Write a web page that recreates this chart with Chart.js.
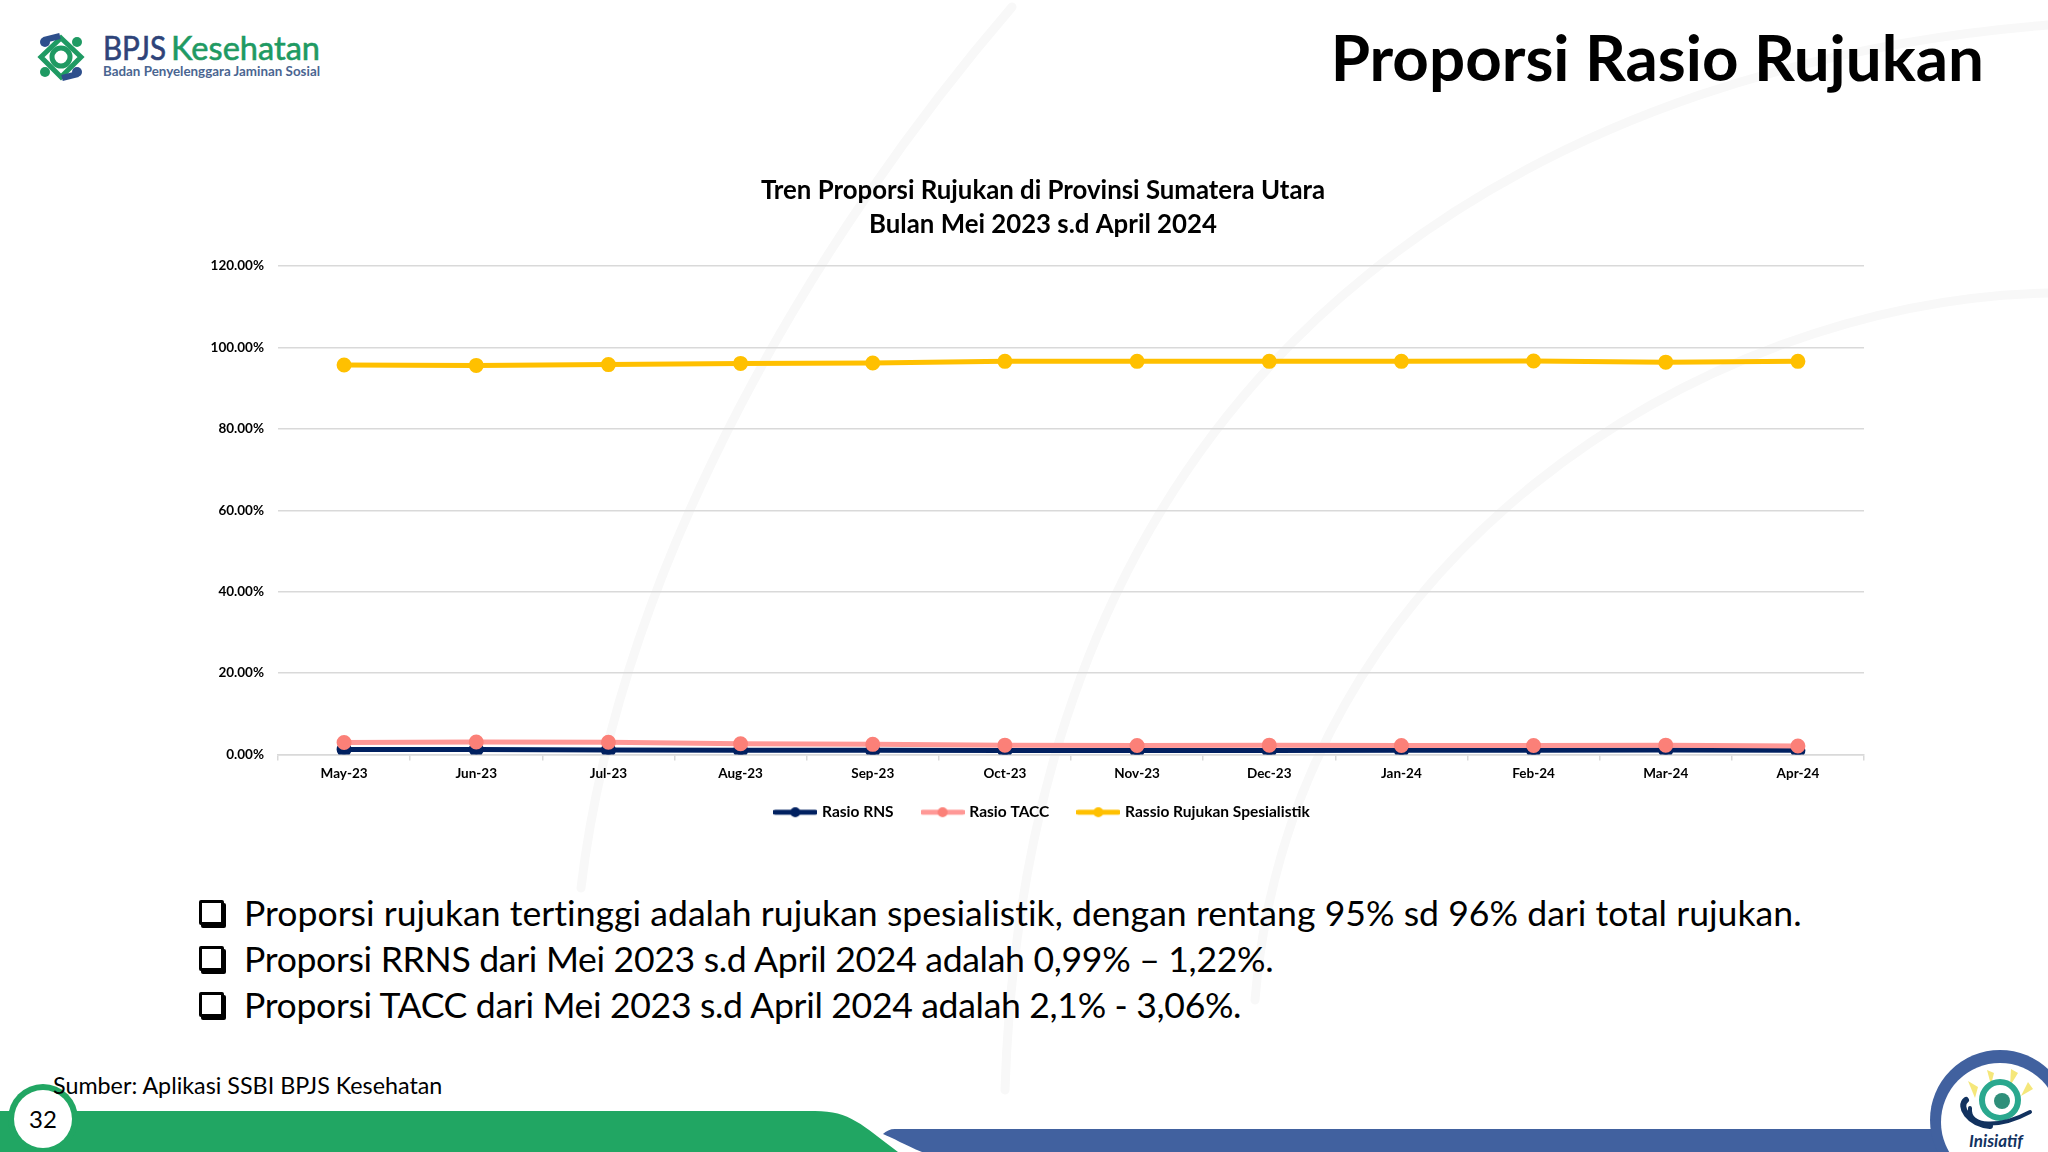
<!DOCTYPE html>
<html>
<head>
<meta charset="utf-8">
<title>Proporsi Rasio Rujukan</title>
<script src="https://cdn.jsdelivr.net/npm/chart.js@4"></script>
<style>
  html, body { margin: 0; padding: 0; background: #fff; }
  body { position: relative; width: 2048px; height: 1152px; overflow: hidden; font-family: Lato, sans-serif; color: #000; }
  #deco { position: absolute; left: 0; top: 0; }
  #chartBox { position: absolute; left: 190px; top: 160px; width: 1706px; height: 670px; }
  .pageTitle { position: absolute; right: 64px; top: 17px; font-size: 63.7px; font-weight: 700; line-height: 80px; white-space: nowrap; }
  .note { position: absolute; left: 244px; font-size: 35.6px; line-height: 46px; white-space: nowrap; }
  .box { position: absolute; left: 199px; width: 19px; height: 19px; border: 3px solid #000; border-radius: 2px; box-shadow: 2px 3px 0 #000; background: #fff; }
  .source { position: absolute; left: 53px; top: 1070px; font-size: 23.3px; line-height: 30px; white-space: nowrap; }
  .pageNo { position: absolute; left: 13px; width: 60px; top: 1104px; text-align: center; font-size: 24px; line-height: 30px; }
</style>
</head>
<body>
<svg id="deco" width="2048" height="1152" viewBox="0 0 2048 1152">
  <!-- faint swooshes behind the chart -->
  <g fill="none" stroke="#f8f8f8" stroke-width="9" stroke-linecap="round">
    <path d="M1012 7 C820 230 620 560 581 888"/>
    <path d="M2048 25 C1600 60 1030 300 1005 1090"/>
    <path d="M2048 293 C1700 300 1290 560 1255 1000"/>
  </g>
  <!-- footer bands -->
  <path d="M0 1111 L815 1111 C850 1111 862 1125 898 1152 L0 1152 Z" fill="#21a663"/>
  <path d="M895 1129 L2048 1129 L2048 1152 L922 1152 C905 1145 893 1138 883 1134 C886 1131 890 1129 895 1129 Z" fill="#41619f"/>
  <circle cx="43" cy="1119" r="35" fill="#21a663"/>
  <circle cx="43" cy="1119" r="29" fill="#fff"/>
  <!-- right badge -->
  <circle cx="2000" cy="1120" r="70" fill="#41619f"/>
  <circle cx="2000" cy="1122" r="59" fill="#fff"/>
  <g fill="#f5e77a">
    <path d="M1968 1081 l10 6 l-3 11 z"/>
    <path d="M1987 1070 l7 3 l-3 12 z"/>
    <path d="M2011 1069 l7 4 l-8 13 z"/>
    <path d="M2028 1082 l5 7 l-12 7 z"/>
  </g>
  <g fill="none" stroke-linecap="round">
    <circle cx="2000" cy="1100" r="18" stroke="#2aa88e" stroke-width="6"/>
    <circle cx="2002" cy="1101" r="8" fill="#2f8f7a" stroke="none"/>
    <path d="M1970 1108 C1968 1128 2000 1128 2030 1112" stroke="#12325f" stroke-width="4"/>
    <path d="M1966 1100 C1958 1106 1968 1124 1990 1126" stroke="#12325f" stroke-width="6"/>
  </g>
  <text x="1996" y="1147" text-anchor="middle" font-family="Lato" font-size="17" font-style="italic" font-weight="700" fill="#12325f">Inisiatif</text>
  <!-- BPJS logo -->
  <g>
    <path d="M61 38 L81 57 L61 77 L41 57 Z" fill="none" stroke="#1f9a63" stroke-width="5"/>
    <circle cx="61" cy="57" r="9" fill="none" stroke="#1f9a63" stroke-width="5"/>
    <path d="M44 40 L60 36 M78 74 L62 78" stroke="#2e4f8c" stroke-width="6"/>
    <circle cx="45" cy="42" r="5" fill="#2e4f8c"/><circle cx="77" cy="42" r="5" fill="#1f9a63"/>
    <circle cx="45" cy="72" r="5" fill="#1f9a63"/><circle cx="77" cy="72" r="5" fill="#2e4f8c"/>
  </g>
  <text x="103" y="60" font-family="Lato" font-size="33" fill="#2e4379" stroke="#2e4379" stroke-width="0.6" textLength="63" lengthAdjust="spacingAndGlyphs">BPJS</text>
  <text x="171" y="60" font-family="Lato" font-size="33" fill="#1f9a63" stroke="#1f9a63" stroke-width="0.6" textLength="149" lengthAdjust="spacingAndGlyphs">Kesehatan</text>
  <text x="103" y="76" font-family="Lato" font-size="14" font-weight="700" fill="#4a6591" textLength="217" lengthAdjust="spacingAndGlyphs">Badan Penyelenggara Jaminan Sosial</text>
</svg>

<div class="pageTitle">Proporsi Rasio Rujukan</div>

<div id="chartBox"><canvas id="rasioChart"></canvas></div>

<div class="box" style="top:900px"></div>
<div class="note" style="top:890px;letter-spacing:0.03px">Proporsi rujukan tertinggi adalah rujukan spesialistik, dengan rentang 95% sd 96% dari total rujukan.</div>
<div class="box" style="top:946px"></div>
<div class="note" style="top:936px;letter-spacing:-0.31px">Proporsi RRNS dari Mei 2023 s.d April 2024 adalah 0,99% – 1,22%.</div>
<div class="box" style="top:992px"></div>
<div class="note" style="top:982px;letter-spacing:-0.33px">Proporsi TACC dari Mei 2023 s.d April 2024 adalah 2,1% - 3,06%.</div>

<div class="source">Sumber: Aplikasi SSBI BPJS Kesehatan</div>
<div class="pageNo">32</div>

<script>
var MONTHS = ['May-23', 'Jun-23', 'Jul-23', 'Aug-23', 'Sep-23', 'Oct-23', 'Nov-23', 'Dec-23', 'Jan-24', 'Feb-24', 'Mar-24', 'Apr-24'];
var RASIO_RNS = [1.20, 1.22, 1.10, 1.03, 1.02, 1.00, 0.99, 1.00, 1.05, 1.05, 1.10, 1.02];
var RASIO_TACC = [2.95, 3.06, 3.00, 2.65, 2.50, 2.30, 2.20, 2.30, 2.20, 2.20, 2.30, 2.10];
var RASIO_SPESIALIS = [95.7, 95.6, 95.8, 96.1, 96.2, 96.6, 96.6, 96.6, 96.6, 96.7, 96.4, 96.6];
var TITLE_LINES = ['Tren Proporsi Rujukan di Provinsi Sumatera Utara', 'Bulan Mei 2023 s.d April 2024'];

var FONT = 'Lato, sans-serif';

// legend sample: line with a dot in the middle
function legendMark(lineColor, dotColor) {
  var c = document.createElement('canvas');
  c.width = 44;
  c.height = 14;
  var g = c.getContext('2d');
  g.strokeStyle = lineColor;
  g.lineWidth = 5;
  g.lineCap = 'round';
  g.beginPath();
  g.moveTo(2, 7);
  g.lineTo(42, 7);
  g.stroke();
  g.fillStyle = dotColor;
  g.beginPath();
  g.arc(22, 7, 5, 0, Math.PI * 2);
  g.fill();
  return c;
}

function series(label, values, lineColor, dotColor, order) {
  return {
    label: label,
    data: values,
    borderColor: lineColor,
    backgroundColor: dotColor,
    pointBackgroundColor: dotColor,
    pointBorderColor: dotColor,
    borderWidth: 5,
    pointRadius: 5,
    tension: 0,
    order: order
  };
}

// axis boxes are kept tight for the layout, so tick labels must not be clipped to them
var noLabelClip = {
  id: 'noLabelClip',
  beforeDraw: function (chart) {
    chart.scales.x._computeLabelArea = function () {};
    chart.scales.y._computeLabelArea = function () {};
  }
};

new Chart(document.getElementById('rasioChart'), {
  type: 'line',
  plugins: [noLabelClip],
  data: {
    labels: MONTHS,
    datasets: [
      series('Rasio RNS', RASIO_RNS, '#002060', '#002060', 3),
      series('Rasio TACC', RASIO_TACC, '#ff9896', '#fb8078', 2),
      series('Rassio Rujukan Spesialistik', RASIO_SPESIALIS, '#ffc000', '#ffc000', 1)
    ]
  },
  options: {
    responsive: true,
    maintainAspectRatio: false,
    animation: false,
    devicePixelRatio: 1,
    layout: { padding: { left: 32, right: 32, bottom: 0 } },
    plugins: {
      title: {
        display: true,
        text: TITLE_LINES,
        color: '#000',
        font: { family: FONT, size: 25.8, weight: '700', lineHeight: 1.32 },
        padding: { top: 14, bottom: 24 }
      },
      legend: {
        position: 'bottom',
        labels: {
          usePointStyle: true,
          pointStyleWidth: 38,
          padding: 30,
          color: '#000',
          font: { family: FONT, size: 15.5, weight: '700' },
          generateLabels: function (chart) {
            return chart.data.datasets.map(function (d, i) {
              return {
                text: d.label,
                datasetIndex: i,
                fontColor: '#000',
                lineWidth: 0,
                pointStyle: legendMark(d.borderColor, d.pointBackgroundColor)
              };
            });
          }
        }
      },
      tooltip: { enabled: false }
    },
    scales: {
      x: {
        offset: true,
        afterFit: function (scale) { scale.height = 20; },
        grid: { offset: true, drawOnChartArea: false, drawTicks: true, tickLength: 6, color: '#d9d9d9', lineWidth: 1.5 },
        border: { color: '#d9d9d9', width: 1.5 },
        ticks: { color: '#000', padding: 5, maxRotation: 0, autoSkip: false, font: { family: FONT, size: 13.5, weight: '700' } }
      },
      y: {
        min: 0,
        max: 120,
        afterFit: function (scale) { scale.width = 56; },
        grid: { drawTicks: false, color: '#d9d9d9', lineWidth: 1.4 },
        border: { display: false },
        ticks: {
          stepSize: 20,
          padding: 14,
          color: '#000',
          font: { family: FONT, size: 13.5, weight: '700' },
          callback: function (v) { return v.toFixed(2) + '%'; }
        }
      }
    }
  }
});
</script>
</body>
</html>
